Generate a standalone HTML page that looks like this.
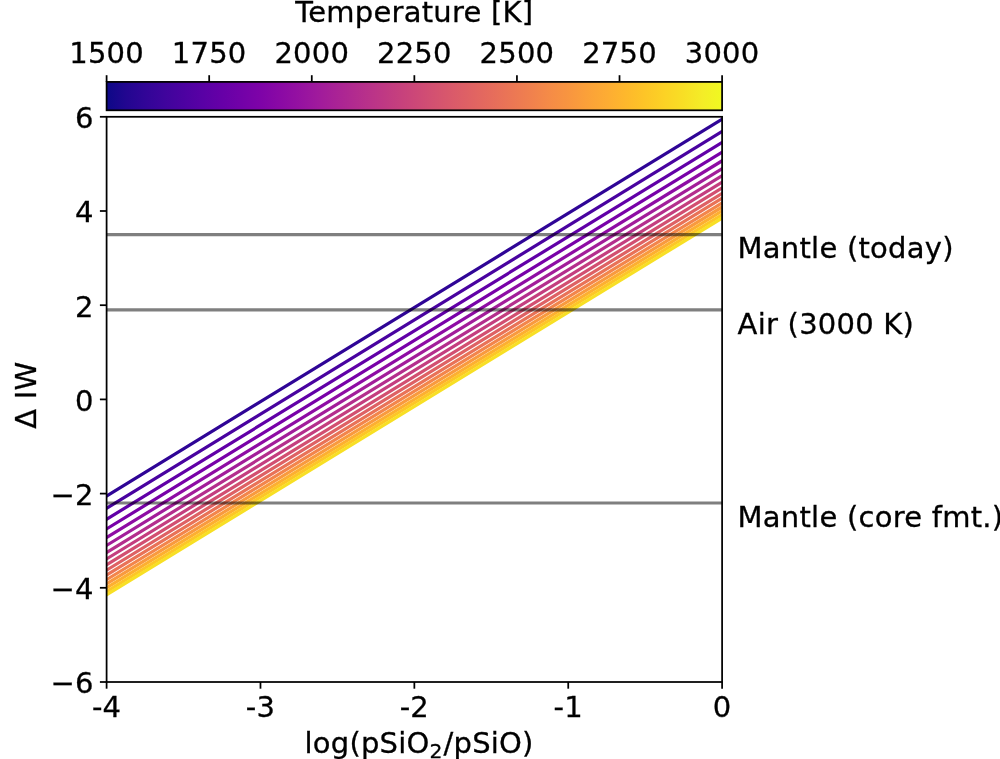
<!DOCTYPE html>
<html lang="en"><head><meta charset="utf-8"><title>Temperature plot</title>
<style>html,body{margin:0;padding:0;background:#fff}body{width:1000px;height:759px;overflow:hidden}svg{display:block}text{stroke:#000;stroke-width:0.3px}</style>
</head><body>
<svg width="1000" height="759" viewBox="0 0 1000 759" font-family="'DejaVu Sans', 'Liberation Sans', sans-serif" font-size="29.0px" letter-spacing="0.24" fill="#000">
<defs><linearGradient id="pl" x1="0" y1="0" x2="1" y2="0"><stop offset="0.000%" stop-color="#0d0887"/><stop offset="3.125%" stop-color="#220690"/><stop offset="6.250%" stop-color="#310597"/><stop offset="9.375%" stop-color="#3f049c"/><stop offset="12.500%" stop-color="#4c02a1"/><stop offset="15.625%" stop-color="#5901a5"/><stop offset="18.750%" stop-color="#6600a7"/><stop offset="21.875%" stop-color="#7201a8"/><stop offset="25.000%" stop-color="#7e03a8"/><stop offset="28.125%" stop-color="#8a09a5"/><stop offset="31.250%" stop-color="#9511a1"/><stop offset="34.375%" stop-color="#a01a9c"/><stop offset="37.500%" stop-color="#aa2395"/><stop offset="40.625%" stop-color="#b32c8e"/><stop offset="43.750%" stop-color="#bc3587"/><stop offset="46.875%" stop-color="#c43e7f"/><stop offset="50.000%" stop-color="#cc4778"/><stop offset="53.125%" stop-color="#d35171"/><stop offset="56.250%" stop-color="#da5a6a"/><stop offset="59.375%" stop-color="#e06363"/><stop offset="62.500%" stop-color="#e66c5c"/><stop offset="65.625%" stop-color="#eb7655"/><stop offset="68.750%" stop-color="#f0804e"/><stop offset="71.875%" stop-color="#f58b47"/><stop offset="75.000%" stop-color="#f89540"/><stop offset="78.125%" stop-color="#fba139"/><stop offset="81.250%" stop-color="#fdac33"/><stop offset="84.375%" stop-color="#feb82c"/><stop offset="87.500%" stop-color="#fdc527"/><stop offset="90.625%" stop-color="#fcd225"/><stop offset="93.750%" stop-color="#f8df25"/><stop offset="96.875%" stop-color="#f4ed27"/><stop offset="100.000%" stop-color="#f0f921"/></linearGradient>
<clipPath id="ax"><rect x="106.6" y="116.8" width="615.5" height="565.2"/></clipPath></defs>
<rect width="1000" height="759" fill="#fff"/>
<rect x="106.6" y="81.9" width="615.5" height="28.39999999999999" fill="url(#pl)" stroke="#000" stroke-width="1.75"/>
<line x1="106.60" y1="81.9" x2="106.60" y2="75.2" stroke="#000" stroke-width="1.75"/>
<text x="106.60" y="63.3" text-anchor="middle">1500</text>
<line x1="209.18" y1="81.9" x2="209.18" y2="75.2" stroke="#000" stroke-width="1.75"/>
<text x="209.18" y="63.3" text-anchor="middle">1750</text>
<line x1="311.77" y1="81.9" x2="311.77" y2="75.2" stroke="#000" stroke-width="1.75"/>
<text x="311.77" y="63.3" text-anchor="middle">2000</text>
<line x1="414.35" y1="81.9" x2="414.35" y2="75.2" stroke="#000" stroke-width="1.75"/>
<text x="414.35" y="63.3" text-anchor="middle">2250</text>
<line x1="516.93" y1="81.9" x2="516.93" y2="75.2" stroke="#000" stroke-width="1.75"/>
<text x="516.93" y="63.3" text-anchor="middle">2500</text>
<line x1="619.52" y1="81.9" x2="619.52" y2="75.2" stroke="#000" stroke-width="1.75"/>
<text x="619.52" y="63.3" text-anchor="middle">2750</text>
<line x1="722.10" y1="81.9" x2="722.10" y2="75.2" stroke="#000" stroke-width="1.75"/>
<text x="722.10" y="63.3" text-anchor="middle">3000</text>
<text x="414.35" y="22.4" text-anchor="middle">Temperature [K]</text>
<g clip-path="url(#ax)" fill="none" stroke-linecap="square">
<line x1="106.60" y1="495.96" x2="722.10" y2="119.15" stroke="#2f0596" stroke-width="3.2"/>
<line x1="106.60" y1="508.32" x2="722.10" y2="131.52" stroke="#4903a0" stroke-width="3.2"/>
<line x1="106.60" y1="519.23" x2="722.10" y2="142.43" stroke="#6100a7" stroke-width="3.2"/>
<line x1="106.60" y1="528.92" x2="722.10" y2="152.12" stroke="#7801a8" stroke-width="3.2"/>
<line x1="106.60" y1="537.60" x2="722.10" y2="160.80" stroke="#8e0ca4" stroke-width="3.2"/>
<line x1="106.60" y1="545.41" x2="722.10" y2="168.61" stroke="#a21d9a" stroke-width="3.2"/>
<line x1="106.60" y1="552.48" x2="722.10" y2="175.68" stroke="#b42e8d" stroke-width="3.2"/>
<line x1="106.60" y1="558.90" x2="722.10" y2="182.10" stroke="#c43e7f" stroke-width="3.2"/>
<line x1="106.60" y1="564.76" x2="722.10" y2="187.96" stroke="#d24f71" stroke-width="3.2"/>
<line x1="106.60" y1="570.14" x2="722.10" y2="193.34" stroke="#de6164" stroke-width="3.2"/>
<line x1="106.60" y1="575.08" x2="722.10" y2="198.28" stroke="#e97257" stroke-width="3.2"/>
<line x1="106.60" y1="579.65" x2="722.10" y2="202.85" stroke="#f3854b" stroke-width="3.2"/>
<line x1="106.60" y1="583.88" x2="722.10" y2="207.07" stroke="#f99a3e" stroke-width="3.2"/>
<line x1="106.60" y1="587.80" x2="722.10" y2="211.00" stroke="#fdaf31" stroke-width="3.2"/>
<line x1="106.60" y1="591.45" x2="722.10" y2="214.65" stroke="#fdc627" stroke-width="3.2"/>
<line x1="106.60" y1="594.87" x2="722.10" y2="218.06" stroke="#f8df25" stroke-width="3.2"/>
<line x1="106.6" y1="234.55" x2="722.1" y2="234.55" stroke="#000" stroke-opacity="0.5" stroke-width="3.2"/>
<line x1="106.6" y1="309.91" x2="722.1" y2="309.91" stroke="#000" stroke-opacity="0.5" stroke-width="3.2"/>
<line x1="106.6" y1="503.02" x2="722.1" y2="503.02" stroke="#000" stroke-opacity="0.5" stroke-width="3.2"/>
</g>
<rect x="106.6" y="116.8" width="615.5" height="565.2" fill="none" stroke="#000" stroke-width="1.75"/>
<line x1="106.6" y1="116.80" x2="99.89999999999999" y2="116.80" stroke="#000" stroke-width="1.75"/>
<text x="93.80" y="128.20" text-anchor="end">6</text>
<line x1="106.6" y1="211.00" x2="99.89999999999999" y2="211.00" stroke="#000" stroke-width="1.75"/>
<text x="93.80" y="222.40" text-anchor="end">4</text>
<line x1="106.6" y1="305.20" x2="99.89999999999999" y2="305.20" stroke="#000" stroke-width="1.75"/>
<text x="93.80" y="316.60" text-anchor="end">2</text>
<line x1="106.6" y1="399.40" x2="99.89999999999999" y2="399.40" stroke="#000" stroke-width="1.75"/>
<text x="93.80" y="410.80" text-anchor="end">0</text>
<line x1="106.6" y1="493.60" x2="99.89999999999999" y2="493.60" stroke="#000" stroke-width="1.75"/>
<text x="93.80" y="505.00" text-anchor="end">−2</text>
<line x1="106.6" y1="587.80" x2="99.89999999999999" y2="587.80" stroke="#000" stroke-width="1.75"/>
<text x="93.80" y="599.20" text-anchor="end">−4</text>
<line x1="106.6" y1="682.00" x2="99.89999999999999" y2="682.00" stroke="#000" stroke-width="1.75"/>
<text x="93.80" y="693.40" text-anchor="end">−6</text>
<line x1="106.60" y1="682.0" x2="106.60" y2="688.7" stroke="#000" stroke-width="1.75"/>
<text x="106.60" y="717.2" text-anchor="middle">-4</text>
<line x1="260.48" y1="682.0" x2="260.48" y2="688.7" stroke="#000" stroke-width="1.75"/>
<text x="260.48" y="717.2" text-anchor="middle">-3</text>
<line x1="414.35" y1="682.0" x2="414.35" y2="688.7" stroke="#000" stroke-width="1.75"/>
<text x="414.35" y="717.2" text-anchor="middle">-2</text>
<line x1="568.23" y1="682.0" x2="568.23" y2="688.7" stroke="#000" stroke-width="1.75"/>
<text x="568.23" y="717.2" text-anchor="middle">-1</text>
<line x1="722.10" y1="682.0" x2="722.10" y2="688.7" stroke="#000" stroke-width="1.75"/>
<text x="722.10" y="717.2" text-anchor="middle">0</text>
<text x="304.55" y="753.4" letter-spacing="0.22">log(pSiO<tspan font-size="20.30px" dy="4.5">2</tspan><tspan dy="-4.5" dx="0.9">/pSiO)</tspan></text>
<text transform="translate(36.3,395.10) rotate(-90)" text-anchor="middle">Δ IW</text>
<text x="737.6" y="258.45">Mantle (today)</text>
<text x="737.6" y="333.81">Air (3000 K)</text>
<text x="737.6" y="526.92">Mantle (core fmt.)</text>
</svg>
</body></html>
